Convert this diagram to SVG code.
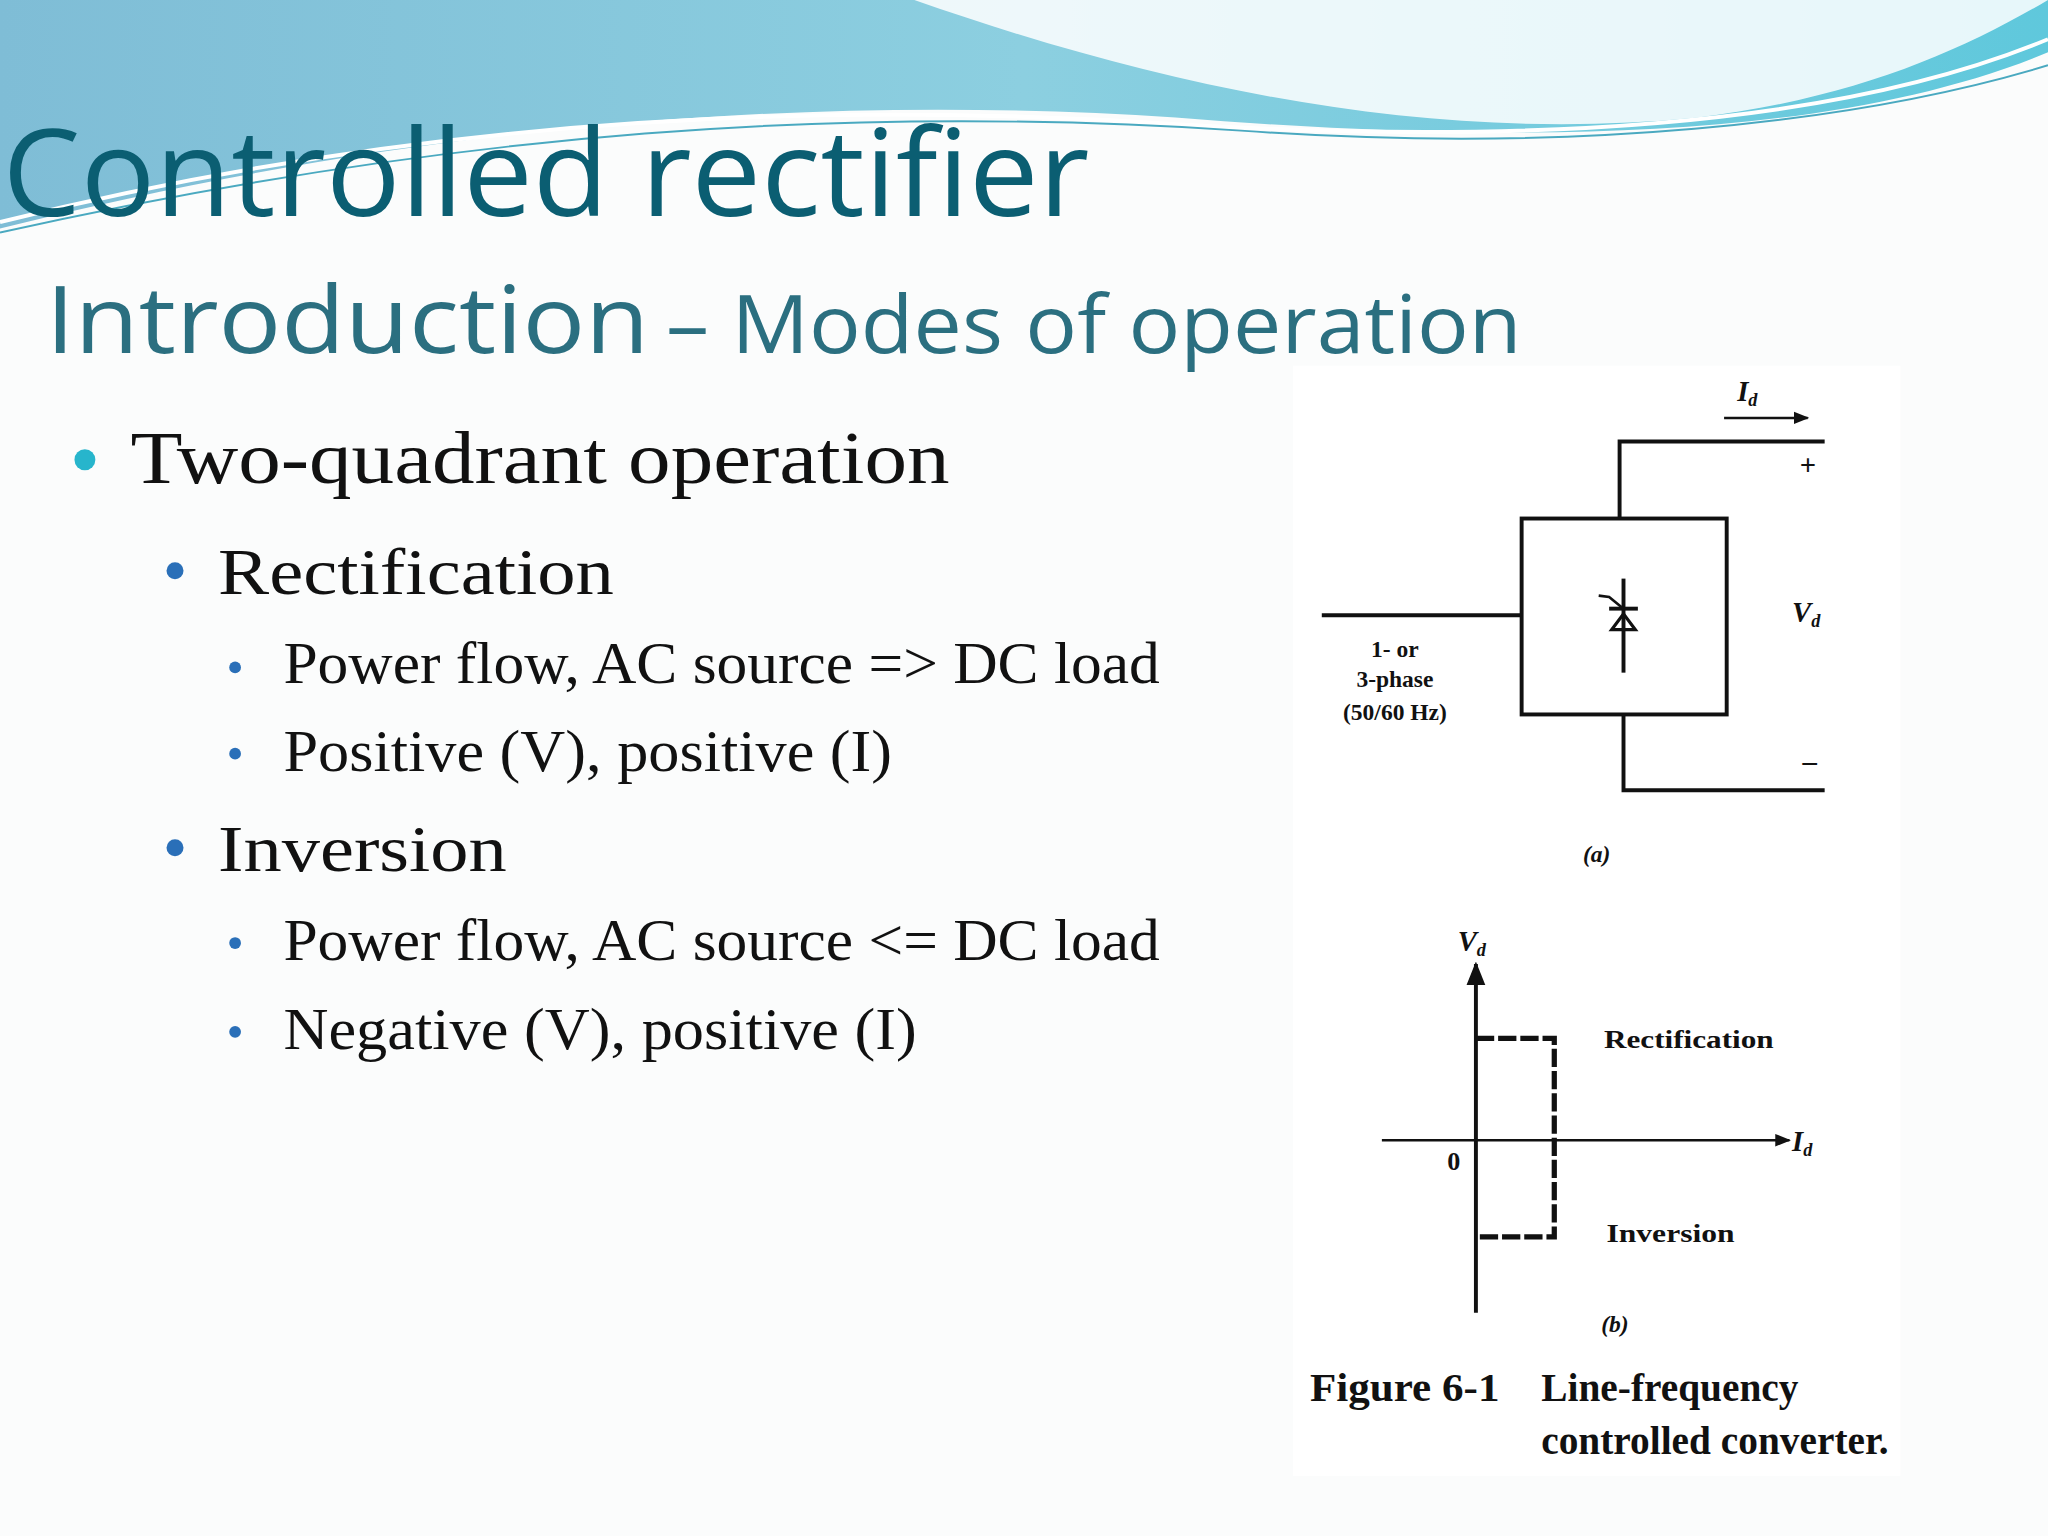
<svg xmlns="http://www.w3.org/2000/svg" width="2048" height="1536" viewBox="0 0 2048 1536">
<defs>
<linearGradient id="top" x1="0" y1="0" x2="1" y2="0">
<stop offset="0" stop-color="#7fbdd6"/><stop offset="0.5" stop-color="#8ccfe0"/><stop offset="1" stop-color="#5fc8dc"/>
</linearGradient>
<marker id="ah" viewBox="0 0 10 10" refX="9" refY="5" markerWidth="6" markerHeight="6" orient="auto"><path d="M0,1 L10,5 L0,9 z" fill="#111"/></marker>
<style>
.title{font-family:"Open Sans","DejaVu Sans",sans-serif;fill:#0b5e72}
.sub{font-family:"Open Sans","DejaVu Sans",sans-serif;fill:#2b6f80}
.body{font-family:"Liberation Serif",serif;fill:#111}
.fig{font-family:"Liberation Serif",serif;fill:#111}
.ln{stroke:#111;stroke-width:3;fill:none}
</style>
</defs>
<rect width="2048" height="1536" fill="#fbfcfc"/>
<g transform="scale(1.30612)">
<g id="header">
<path d="M0,0 H1568 V40 C1400,110 1150,110 900,90 C600,70 300,100 0,175 Z" fill="url(#top)"/>
<path d="M700,0 C900,70 1100,110 1300,90 C1420,75 1500,40 1568,0 Z" fill="#ffffff" opacity="0.85"/>
<path d="M0,170 C300,95 600,75 900,95 C1150,110 1400,100 1568,30" stroke="#ffffff" stroke-width="3" fill="none"/>
<path d="M0,178 C350,100 650,80 950,100 C1200,118 1420,95 1568,50" stroke="#4aa9c0" stroke-width="1.5" fill="none"/>
<text class="title" x="2" y="165" font-size="92" textLength="832" lengthAdjust="spacingAndGlyphs">Controlled rectifier</text>
<text class="sub" x="35" y="270" font-size="72" textLength="462" lengthAdjust="spacingAndGlyphs">Introduction</text>
<text class="sub" x="510" y="270" font-size="62" textLength="655" lengthAdjust="spacingAndGlyphs">– Modes of operation</text>
</g>
<g id="bullets">
<circle cx="65" cy="352" r="8" fill="#27b5cc"/>
<text class="body" x="100" y="370" font-size="56" textLength="627" lengthAdjust="spacingAndGlyphs">Two-quadrant operation</text>
<circle cx="134" cy="437" r="6.5" fill="#2a6fb8"/>
<text class="body" x="167" y="455" font-size="50" textLength="303" lengthAdjust="spacingAndGlyphs">Rectification</text>
<circle cx="180" cy="511" r="4.5" fill="#2a6fb8"/>
<text class="body" x="217" y="523" font-size="46" textLength="671" lengthAdjust="spacingAndGlyphs">Power flow, AC source =&gt; DC load</text>
<circle cx="180" cy="577" r="4.5" fill="#2a6fb8"/>
<text class="body" x="217" y="590" font-size="46" textLength="466" lengthAdjust="spacingAndGlyphs">Positive (V), positive (I)</text>
<circle cx="134" cy="649" r="6.5" fill="#2a6fb8"/>
<text class="body" x="167" y="667" font-size="50" textLength="221" lengthAdjust="spacingAndGlyphs">Inversion</text>
<circle cx="180" cy="722" r="4.5" fill="#2a6fb8"/>
<text class="body" x="217" y="735" font-size="46" textLength="671" lengthAdjust="spacingAndGlyphs">Power flow, AC source &lt;= DC load</text>
<circle cx="180" cy="790" r="4.5" fill="#2a6fb8"/>
<text class="body" x="217" y="803" font-size="46" textLength="485" lengthAdjust="spacingAndGlyphs">Negative (V), positive (I)</text>
</g>
<rect x="990" y="280" width="465" height="850" fill="#ffffff"/>
<g id="connectors">
<line class="ln" x1="1012" y1="471" x2="1165" y2="471"/>
<polyline class="ln" points="1240,397 1240,338 1397,338"/>
<polyline class="ln" points="1243,547 1243,605 1397,605"/>
<line x1="1320" y1="320" x2="1384" y2="320" stroke="#111" stroke-width="2" marker-end="url(#ah)"/>
<line x1="1130" y1="1005" x2="1130" y2="738" stroke="#111" stroke-width="3" marker-end="url(#ah)"/>
<line x1="1058" y1="873" x2="1370" y2="873" stroke="#111" stroke-width="2" marker-end="url(#ah)"/>
<polyline points="1130,795 1190,795 1190,947 1130,947" stroke="#111" stroke-width="4" fill="none" stroke-dasharray="14,3"/>
</g>
<g id="converter">
<rect class="ln" x="1165" y="397" width="157" height="150"/>
<line class="ln" x1="1243" y1="443" x2="1243" y2="515"/>
<path d="M1234,482 L1252,482 L1243,470 Z" stroke="#111" stroke-width="2.5" fill="none"/>
<line class="ln" x1="1232" y1="466" x2="1254" y2="466"/>
<polyline points="1243,466 1232,457 1224,456" stroke="#111" stroke-width="2" fill="none"/>
<text class="fig" x="1068" y="503" font-size="18" font-weight="bold" text-anchor="middle">1- or</text>
<text class="fig" x="1068" y="526" font-size="18" font-weight="bold" text-anchor="middle">3-phase</text>
<text class="fig" x="1068" y="551" font-size="18" font-weight="bold" text-anchor="middle">(50/60 Hz)</text>
<text class="fig" x="1330" y="307" font-size="22" font-style="italic" font-weight="bold">I<tspan font-size="14" dy="4">d</tspan></text>
<text class="fig" x="1378" y="364" font-size="22" font-weight="bold">+</text>
<text class="fig" x="1380" y="590" font-size="22" font-weight="bold">–</text>
<text class="fig" x="1372" y="476" font-size="22" font-style="italic" font-weight="bold">V<tspan font-size="14" dy="4">d</tspan></text>
<text class="fig" x="1212" y="660" font-size="18" font-style="italic" font-weight="bold">(a)</text>
</g>
<g id="graph">
<text class="fig" x="1116" y="728" font-size="22" font-style="italic" font-weight="bold">V<tspan font-size="14" dy="4">d</tspan></text>
<text class="fig" x="1372" y="881" font-size="22" font-style="italic" font-weight="bold">I<tspan font-size="14" dy="4">d</tspan></text>
<text class="fig" x="1108" y="896" font-size="20" font-weight="bold">0</text>
<text class="fig" x="1228" y="802" font-size="20" font-weight="bold" textLength="130" lengthAdjust="spacingAndGlyphs">Rectification</text>
<text class="fig" x="1230" y="951" font-size="20" font-weight="bold" textLength="98" lengthAdjust="spacingAndGlyphs">Inversion</text>
<text class="fig" x="1226" y="1020" font-size="18" font-style="italic" font-weight="bold">(b)</text>
</g>
<g id="caption">
<text class="fig" x="1003" y="1073" font-size="30" font-weight="bold" textLength="145" lengthAdjust="spacingAndGlyphs">Figure 6-1</text>
<text class="fig" x="1180" y="1073" font-size="30" font-weight="bold" textLength="197" lengthAdjust="spacingAndGlyphs">Line-frequency</text>
<text class="fig" x="1180" y="1113" font-size="30" font-weight="bold" textLength="266" lengthAdjust="spacingAndGlyphs">controlled converter.</text>
</g>
</g>
</svg>
